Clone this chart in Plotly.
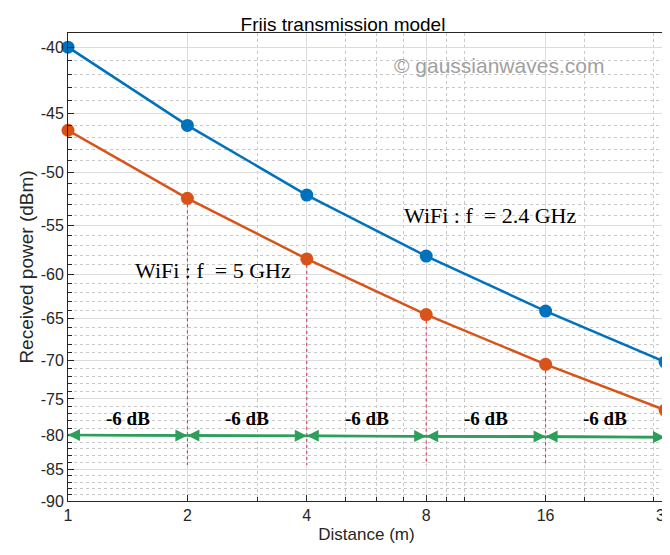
import numpy as np
import plotly.graph_objects as go

distance = [1, 2, 4, 8, 16, 32]
p_24 = [-40.0, -46.0, -52.1, -58.1, -64.1, -70.2]
p_5 = [-46.4, -52.4, -58.4, -64.5, -70.5, -76.5]
y_ticks = [-40, -45, -50, -55, -60, -65, -70, -75, -80, -85, -90]
arrow_y = [-80.0, -80.05, -80.1, -80.15, -80.2, -80.3]
drop_bottom = -84.4

blue = "#0072BD"
orange = "#D95319"
green = "#2E9E5B"

fig = go.Figure()
for d, p in zip(distance[1:5], p_5[1:5]):
    fig.add_trace(go.Scatter(x=[d, d], y=[-p, -drop_bottom], mode="lines",
                             line=dict(color="#E0204A", width=1, dash="dot"),
                             showlegend=False, hoverinfo="skip"))
fig.add_trace(go.Scatter(x=distance, y=[-v for v in arrow_y], mode="lines",
                         line=dict(color=green, width=2.5), showlegend=False))
fig.add_trace(go.Scatter(x=distance, y=[-v for v in p_24], mode="lines+markers",
                         line=dict(color=blue, width=2.5), marker=dict(size=13, color=blue),
                         showlegend=False, cliponaxis=False))
fig.add_trace(go.Scatter(x=distance, y=[-v for v in p_5], mode="lines+markers",
                         line=dict(color=orange, width=2.5), marker=dict(size=13, color=orange),
                         showlegend=False, cliponaxis=False))

ann = []
for i in range(5):
    x0, x1 = distance[i], distance[i + 1]
    y0, y1 = arrow_y[i], arrow_y[i + 1]
    for (xa, ya, xb, yb) in [(x1, y1, x0, y0), (x0, y0, x1, y1)]:
        ann.append(dict(x=np.log10(xa), y=np.log10(-ya), ax=np.log10(xb), ay=np.log10(-yb),
                        xref="x", yref="y", axref="x", ayref="y", showarrow=True,
                        arrowhead=2, arrowsize=1.2, arrowwidth=2, arrowcolor=green,
                        text="", standoff=0, startstandoff=0))
    ann.append(dict(x=np.log10(np.sqrt(x0 * x1)), y=np.log10(77.6), xref="x", yref="y",
                    text="<b>-6 dB</b>", showarrow=False,
                    font=dict(family="Liberation Serif", size=19, color="black")))
ann += [
    dict(x=np.log10(11.6), y=np.log10(54.0), xref="x", yref="y", text="WiFi : f  = 2.4 GHz",
         showarrow=False, font=dict(family="Liberation Serif", size=22, color="black")),
    dict(x=np.log10(2.32), y=np.log10(59.6), xref="x", yref="y", text="WiFi : f  = 5 GHz",
         showarrow=False, font=dict(family="Liberation Serif", size=22, color="black")),
    dict(x=np.log10(12.2), y=np.log10(41.3), xref="x", yref="y", text="© gaussianwaves.com",
         showarrow=False, font=dict(family="Liberation Sans", size=21, color="#A0A0A0")),
]

fig.update_layout(
    width=670, height=555, margin=dict(l=60, r=13, t=25, b=62, autoexpand=False),
    paper_bgcolor="white", plot_bgcolor="white",
    font=dict(family="Liberation Sans", size=16, color="#262626"),
    title=dict(text="Friis transmission model", x=0.5, xanchor="center",
               y=1, yref="paper", yanchor="bottom", pad=dict(b=2),
               font=dict(size=19, color="black")),
    annotations=ann,
)
fig.update_xaxes(type="log", range=[0, np.log10(32)], tickvals=distance, automargin=False,
                 ticktext=[str(d) for d in distance], title=dict(text="Distance (m)", standoff=4, font=dict(size=17)),
                 showgrid=True, gridcolor="#DCDCDC", gridwidth=1,
                 minor=dict(tickvals=[3, 5, 6, 7, 9, 10, 20, 30], showgrid=True,
                            gridcolor="#C8C8C8", griddash="dot", ticklen=4, ticks="inside",
                            tickcolor="#262626"),
                 showline=True, linecolor="#262626", linewidth=1, mirror=True,
                 ticks="inside", ticklen=6, tickcolor="#262626", zeroline=False)
fig.update_yaxes(type="log", range=[np.log10(90), np.log10(39.0)], automargin=False,
                 tickvals=[-v for v in y_ticks], ticktext=[str(v) for v in y_ticks],
                 title=dict(text="Received power (dBm)", standoff=2, font=dict(size=19)),
                 showgrid=True, gridcolor="#DCDCDC", gridwidth=1,
                 minor=dict(tickvals=[v for v in range(40, 91) if v % 5 != 0], showgrid=True,
                            gridcolor="#C8C8C8", griddash="dot", ticklen=4, ticks="inside",
                            tickcolor="#262626"),
                 showline=True, linecolor="#262626", linewidth=1, mirror=True,
                 ticks="inside", ticklen=6, tickcolor="#262626", zeroline=False)

fig.write_html("out.html")
